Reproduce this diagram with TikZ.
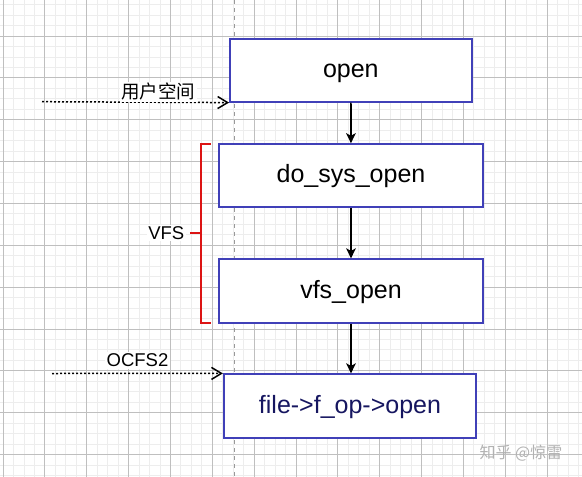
\documentclass[tikz,border=0pt]{standalone}
\usepackage{fontspec}
\setmainfont{Liberation Sans}
\newfontfamily\cjk{Noto Sans CJK SC}
\usetikzlibrary{arrows.meta,positioning}
\definecolor{boxblue}{RGB}{64,64,184}
\definecolor{navy}{RGB}{22,22,96}
\definecolor{bracketred}{RGB}{220,20,20}
\tikzset{
    % Define style for the function boxes
    fnbox/.style={
           rectangle,
           draw=boxblue, line width=1.8pt,
           fill=white,
           minimum height=62.7pt,
           inner sep=0pt,
           text height=19pt, text depth=4.4pt,
           font=\fontsize{25}{30}\selectfont},
    % Define arrow style for calls
    call/.style={
           -{Stealth[length=10pt,width=9.5pt,inset=2.5pt]},
           line width=1.7pt},
    % Dotted entry arrows and their labels
    hint/.style={
           -{Straight Barb[length=10pt,width=12pt]},
           line width=1.5pt,
           dash pattern=on 2pt off 2pt},
    lbl/.style={
           fill=white,
           inner sep=1.5pt,
           font=\fontsize{18.5}{22}\selectfont},
    minorgrid/.style={draw=black!7, line width=.8pt},
    majorgrid/.style={draw=black!25, line width=.8pt}
}

\begin{document}
\begin{tikzpicture}[x=1pt,y=-1pt]
\fill[white] (0,0) rectangle (582,477);
\useasboundingbox (0,0) rectangle (582,477);

% Background grid
\foreach \k in {0,...,55} \draw[minorgrid] ({3+10.4625*\k},0) -- ++(0,477);
\foreach \k in {-3,...,42} \draw[minorgrid] (0,{36+10.4625*\k}) -- ++(582,0);
\foreach \k in {0,...,13} \draw[majorgrid] ({3+41.85*\k},0) -- ++(0,477);
\foreach \k in {0,...,10} \draw[majorgrid] (0,{36+41.85*\k}) -- ++(582,0);

% Dashed guide line
\draw[black!40, line width=1pt, dash pattern=on 4pt off 4pt] (234,0) -- (234,477);

% The call chain
\node[fnbox, minimum width=241.7pt] (open) at (350.85,70.35) {open};
\node[fnbox, minimum width=263.4pt] (dso) at (351,175.5) {do\_sys\_open};
\node[fnbox, minimum width=263.4pt, minimum height=63.4pt] (vfs) at (351,291) {vfs\_open};
\node[fnbox, minimum width=252.4pt, minimum height=63.4pt, text=navy] (fop) at (350,406) {file->f\_op->open};

\draw[call] (open) -- (dso);
\draw[call] (dso) -- (vfs);
\draw[call] (vfs.south) -- (vfs.south |- fop.north);

% Entry points
\coordinate (user) at (42,101.7);
\coordinate (ocfs) at (52,373.5);
\draw[hint] (user) -- (open.south west)
    node[lbl, pos=0.62, yshift=10.5pt] (userlbl) {\cjk 用户空间};
\draw[hint] (ocfs) -- (fop.north west)
    node[lbl, midway, yshift=13pt] (ocfslbl) {OCFS2};

% VFS bracket
\node[lbl, anchor=east] (vfslbl) at (186,233.3) {VFS};
\coordinate (brmid) at (200.7,233.3);
\draw[bracketred, line width=1.8pt] (210.7,144.3) -| (200.7,322.7) -- (210.7,322.7);
\draw[bracketred, line width=1.8pt] ([xshift=4pt]vfslbl.east) -- (brmid);

% Watermark
\node[text=black!30, font=\cjk\fontsize{16}{18}\selectfont] (mark) at (521,453) {知乎 @惊雷};
\end{tikzpicture}
\end{document}
